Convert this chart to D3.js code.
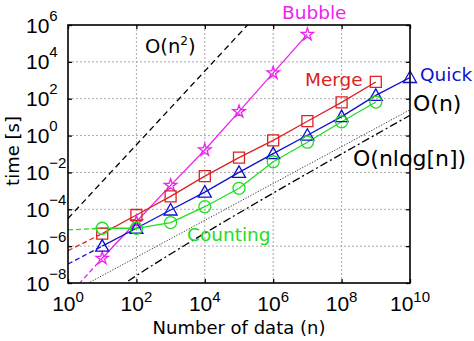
<html>
<head>
<meta charset="utf-8">
<title>Sorting time vs number of data</title>
<style type="text/css">
* { margin: 0; padding: 0; }
body { background: #fff; }
text.tick { font-family: "Liberation Sans", Arial, sans-serif; fill: #000; }
text.lbl { font-family: "DejaVu Sans", sans-serif; }
</style>
<script type="text/javascript" src="https://cdn.jsdelivr.net/npm/d3@7"></script>
<script type="text/javascript">
// number of data n (as powers of ten) and measured times, stored as log10(seconds)
var nExp = [1, 2, 3, 4, 5, 6, 7, 8, 9, 10];

var bubbleLogT   = [-6.66, -4.68, -2.70, -0.78, 1.30, 3.40, 5.49];
var mergeLogT    = [-5.32, -4.31, -3.30, -2.20, -1.20, -0.26, 0.78, 1.80, 2.91];
var quickLogT    = [-6.00, -5.03, -4.04, -3.07, -2.00, -0.98, 0.02, 1.03, 2.18, 3.15];
var countingLogT = [-5.03, -5.03, -4.72, -3.86, -2.86, -1.42, -0.36, 0.75, 1.82];

// extrapolated fit value at n = 1 (dashed part left of first measurement)
var atOneLogT = { Bubble: -8.7, Merge: -6.25, Quick: -6.97, Counting: -5.12 };

// guide lines: log10 of the constant in front of each order
var guideCoef = { n2: -4.5, n: -8.6, nlogn: -9.9 };

var xTickExp = [0, 2, 4, 6, 8, 10];
var yTickExp = [-8, -6, -4, -2, 0, 2, 4, 6];

window.onload = function() {
  var W = 474, H = 341;
  var L = 68, R = 410, T = 25, B = 283;

  var svg = d3.select("#chart").append("svg")
    .attr("width", W).attr("height", H);

  var x = d3.scaleLog().domain([1, 1e10]).range([L, R]);
  var y = d3.scaleLog().domain([1e-8, 1e6]).range([B, T]);

  svg.append("clipPath").attr("id", "plotClip")
    .append("rect").attr("x", L).attr("y", T).attr("width", R - L).attr("height", B - T);

  // grid
  var grid = svg.append("g");
  xTickExp.slice(1, -1).forEach(function(e) {
    grid.append("line")
      .attr("x1", x(Math.pow(10, e))).attr("x2", x(Math.pow(10, e)))
      .attr("y1", T).attr("y2", B)
      .attr("stroke", "#aaa").attr("stroke-width", 1).attr("stroke-dasharray", "2,2");
  });
  yTickExp.slice(1, -1).forEach(function(e) {
    grid.append("line")
      .attr("x1", L).attr("x2", R)
      .attr("y1", y(Math.pow(10, e))).attr("y2", y(Math.pow(10, e)))
      .attr("stroke", "#aaa").attr("stroke-width", 1).attr("stroke-dasharray", "2,2");
  });

  // inward ticks on all four sides
  var xVals = xTickExp.map(function(e) { return Math.pow(10, e); });
  var yVals = yTickExp.map(function(e) { return Math.pow(10, e); });
  function tickAxis(g) { g.select(".domain").remove(); g.selectAll("text").remove(); g.selectAll("line").attr("stroke-width", 1.3); }
  svg.append("g").attr("transform", "translate(0," + B + ")")
    .call(d3.axisBottom(x).tickValues(xVals).tickSize(-4)).call(tickAxis);
  svg.append("g").attr("transform", "translate(0," + T + ")")
    .call(d3.axisTop(x).tickValues(xVals).tickSize(-4)).call(tickAxis);
  svg.append("g").attr("transform", "translate(" + L + ",0)")
    .call(d3.axisLeft(y).tickValues(yVals).tickSize(-4)).call(tickAxis);
  svg.append("g").attr("transform", "translate(" + R + ",0)")
    .call(d3.axisRight(y).tickValues(yVals).tickSize(-4)).call(tickAxis);

  // guide lines O(n^2), O(n), O(n log n)
  var guides = svg.append("g").attr("clip-path", "url(#plotClip)");
  var logLine = d3.line()
    .x(function(d) { return x(Math.pow(10, d[0])); })
    .y(function(d) { return y(Math.pow(10, d[1])); });
  var gx = d3.range(0, 10.01, 0.25);
  guides.append("path")
    .datum(gx.map(function(e) { return [e, 2 * e + guideCoef.n2]; }))
    .attr("d", logLine).attr("fill", "none").attr("stroke", "#000")
    .attr("stroke-width", 1.3).attr("stroke-dasharray", "6,4");
  guides.append("path")
    .datum(gx.map(function(e) { return [e, e + guideCoef.n]; }))
    .attr("d", logLine).attr("fill", "none").attr("stroke", "#333")
    .attr("stroke-width", 1).attr("stroke-dasharray", "1.2,1.6");
  guides.append("path")
    .datum(gx.filter(function(e) { return e >= 1; })
      .map(function(e) { return [e, e + Math.log10(e) + guideCoef.nlogn]; }))
    .attr("d", logLine).attr("fill", "none").attr("stroke", "#000")
    .attr("stroke-width", 1.3).attr("stroke-dasharray", "8,3,2,3");

  var series = [
    { name: "Bubble", logT: bubbleLogT, color: "#ee22ee", marker: "star" },
    { name: "Merge", logT: mergeLogT, color: "#dd2222", marker: "square" },
    { name: "Quick", logT: quickLogT, color: "#1010cc", marker: "triangle" },
    { name: "Counting", logT: countingLogT, color: "#22dd22", marker: "circle" }
  ];

  var lines = svg.append("g").attr("clip-path", "url(#plotClip)");
  var marks = svg.append("g");

  series.forEach(function(s) {
    var pts = s.logT.map(function(v, i) { return [nExp[i], v]; });
    lines.append("path")
      .datum([[0, atOneLogT[s.name]], pts[0]])
      .attr("d", logLine).attr("fill", "none").attr("stroke", s.color)
      .attr("stroke-width", 1.3).attr("stroke-dasharray", "5,3");
    lines.append("path")
      .datum(pts)
      .attr("d", logLine).attr("fill", "none").attr("stroke", s.color)
      .attr("stroke-width", 1.3);

    var sym;
    if (s.marker == "star") sym = d3.symbol().type(d3.symbolStar).size(48)();
    else if (s.marker == "square") sym = "M-5.5,-5.5H5.5V5.5H-5.5Z";
    else if (s.marker == "triangle") sym = "M0,-6.5L6.5,5L-6.5,5Z";
    else sym = d3.symbol().type(d3.symbolCircle).size(Math.PI * 36)();

    marks.selectAll(null).data(pts).enter().append("path")
      .attr("d", sym)
      .attr("transform", function(d) {
        return "translate(" + x(Math.pow(10, d[0])) + "," + y(Math.pow(10, d[1])) + ")";
      })
      .attr("fill", "none").attr("stroke", s.color).attr("stroke-width", 1.3);
  });

  // axes box
  svg.append("rect")
    .attr("x", L).attr("y", T).attr("width", R - L).attr("height", B - T)
    .attr("fill", "none").attr("stroke", "#000").attr("stroke-width", 1.6);

  // tick labels 10^k
  function expLabel(e) { return String(e).replace("-", "\u2212"); }
  xTickExp.forEach(function(e) {
    var t = svg.append("text").attr("class", "tick")
      .attr("x", x(Math.pow(10, e))).attr("y", 311)
      .attr("text-anchor", "middle").style("font-size", "21px");
    t.append("tspan").text("10");
    t.append("tspan").attr("dy", -9).style("font-size", "15px").text(expLabel(e));
  });
  yTickExp.forEach(function(e) {
    var t = svg.append("text").attr("class", "tick")
      .attr("x", 26).attr("y", y(Math.pow(10, e)) + 7.5)
      .style("font-size", "21px");
    t.append("tspan").text("10");
    t.append("tspan").attr("dy", -12).style("font-size", "15px").text(expLabel(e));
  });

  // axis titles
  svg.append("text").attr("class", "lbl")
    .attr("x", (L + R) / 2).attr("y", 334).attr("text-anchor", "middle")
    .style("font-size", "18px").text("Number of data (n)");
  svg.append("text").attr("class", "lbl")
    .attr("transform", "translate(19," + ((T + B) / 2 - 3) + ") rotate(-90)")
    .attr("text-anchor", "middle")
    .style("font-size", "18px").text("time [s]");

  // series and order labels
  function label(txt, px, py, color, size) {
    return svg.append("text").attr("class", "lbl")
      .attr("x", px).attr("y", py).attr("fill", color)
      .style("font-size", size + "px").text(txt);
  }
  label("Bubble", 282, 19, "#ee22ee", 18.5);
  label("Merge", 305, 86, "#dd2222", 18.5);
  label("Quick", 420, 81, "#1010cc", 18.5);
  label("Counting", 187, 241, "#22dd22", 18.5);
  label("O(n)", 413, 111, "#000", 22);
  label("O(nlog[n])", 353, 166, "#000", 22);

  var on2 = svg.append("text").attr("class", "lbl")
    .attr("x", 145).attr("y", 53).style("font-size", "19.5px");
  on2.append("tspan").text("O(n");
  on2.append("tspan").attr("dy", -8).style("font-size", "12px").text("2");
  on2.append("tspan").attr("dy", 8).text(")");
};
</script>
</head>
<body>
<div id="chart"></div>
</body>
</html>
